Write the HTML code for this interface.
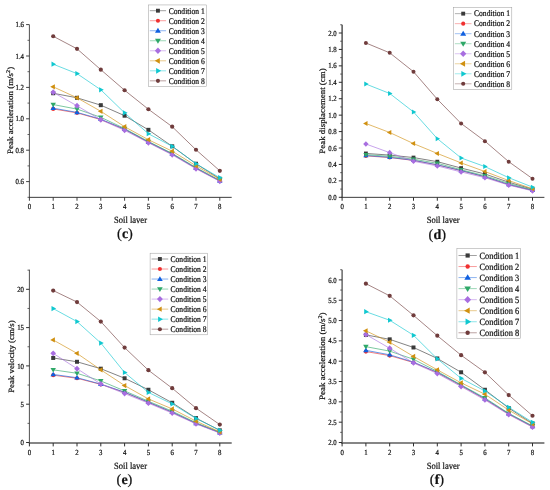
<!DOCTYPE html>
<html lang="en">
<head>
<meta charset="utf-8">
<title>Peak response vs soil layer</title>
<style>
html,body{margin:0;padding:0;background:#fff;}
body{width:550px;height:490px;overflow:hidden;}
svg{display:block;text-rendering:geometricPrecision;}
text{stroke:#1a1a1a;stroke-width:0.24px;paint-order:stroke;font-family:'Liberation Serif', 'Times New Roman', serif;}
</style>
</head>
<body>
<svg width="550" height="490" viewBox="0 0 550 490">
<defs><filter id="soft" x="0" y="0" width="100%" height="100%" filterUnits="userSpaceOnUse" color-interpolation-filters="sRGB"><feGaussianBlur stdDeviation="0.3"/></filter></defs>
<rect width="550" height="490" fill="#ffffff"/>
<g filter="url(#soft)">
<g id="panel-c">
<polyline points="53.20,93.25 77.00,97.80 100.80,105.18 124.60,115.70 148.40,129.83 172.20,146.31 196.00,163.74 219.80,178.81" fill="none" stroke="#3a3a3a" stroke-width="0.7" stroke-opacity="0.9"/>
<rect x="51.21" y="91.25" width="3.99" height="3.99" fill="#3a3a3a"/>
<rect x="75.00" y="95.80" width="3.99" height="3.99" fill="#3a3a3a"/>
<rect x="98.81" y="103.18" width="3.99" height="3.99" fill="#3a3a3a"/>
<rect x="122.60" y="113.70" width="3.99" height="3.99" fill="#3a3a3a"/>
<rect x="146.41" y="127.83" width="3.99" height="3.99" fill="#3a3a3a"/>
<rect x="170.21" y="144.32" width="3.99" height="3.99" fill="#3a3a3a"/>
<rect x="194.00" y="161.74" width="3.99" height="3.99" fill="#3a3a3a"/>
<rect x="217.81" y="176.81" width="3.99" height="3.99" fill="#3a3a3a"/>
<polyline points="53.20,108.95 77.00,112.87 100.80,119.62 124.60,129.35 148.40,142.23 172.20,154.16 196.00,168.29 219.80,181.01" fill="none" stroke="#f03030" stroke-width="0.7" stroke-opacity="0.9"/>
<circle cx="53.20" cy="108.95" r="2.10" fill="#f03030"/>
<circle cx="77.00" cy="112.87" r="2.10" fill="#f03030"/>
<circle cx="100.80" cy="119.62" r="2.10" fill="#f03030"/>
<circle cx="124.60" cy="129.35" r="2.10" fill="#f03030"/>
<circle cx="148.40" cy="142.23" r="2.10" fill="#f03030"/>
<circle cx="172.20" cy="154.16" r="2.10" fill="#f03030"/>
<circle cx="196.00" cy="168.29" r="2.10" fill="#f03030"/>
<circle cx="219.80" cy="181.01" r="2.10" fill="#f03030"/>
<polyline points="53.20,108.16 77.00,112.40 100.80,119.15 124.60,129.20 148.40,142.07 172.20,154.00 196.00,168.13 219.80,180.85" fill="none" stroke="#1060e0" stroke-width="0.7" stroke-opacity="0.9"/>
<polygon points="53.20,105.44 50.48,109.97 55.92,109.97" fill="#1060e0"/>
<polygon points="77.00,109.68 74.28,114.21 79.72,114.21" fill="#1060e0"/>
<polygon points="100.80,116.43 98.08,120.96 103.52,120.96" fill="#1060e0"/>
<polygon points="124.60,126.48 121.88,131.01 127.32,131.01" fill="#1060e0"/>
<polygon points="148.40,139.35 145.68,143.89 151.12,143.89" fill="#1060e0"/>
<polygon points="172.20,151.28 169.48,155.82 174.92,155.82" fill="#1060e0"/>
<polygon points="196.00,165.41 193.28,169.95 198.72,169.95" fill="#1060e0"/>
<polygon points="219.80,178.13 217.08,182.67 222.52,182.67" fill="#1060e0"/>
<polyline points="53.20,104.55 77.00,109.10 100.80,117.27 124.60,128.57 148.40,141.44 172.20,153.38 196.00,167.51 219.80,180.38" fill="none" stroke="#2ea868" stroke-width="0.7" stroke-opacity="0.9"/>
<polygon points="53.20,107.27 50.48,102.73 55.92,102.73" fill="#2ea868"/>
<polygon points="77.00,111.82 74.28,107.29 79.72,107.29" fill="#2ea868"/>
<polygon points="100.80,119.99 98.08,115.45 103.52,115.45" fill="#2ea868"/>
<polygon points="124.60,131.29 121.88,126.76 127.32,126.76" fill="#2ea868"/>
<polygon points="148.40,144.17 145.68,139.63 151.12,139.63" fill="#2ea868"/>
<polygon points="172.20,156.10 169.48,151.56 174.92,151.56" fill="#2ea868"/>
<polygon points="196.00,170.23 193.28,165.69 198.72,165.69" fill="#2ea868"/>
<polygon points="219.80,183.10 217.08,178.57 222.52,178.57" fill="#2ea868"/>
<polyline points="53.20,92.30 77.00,105.81 100.80,119.78 124.60,130.30 148.40,142.70 172.20,154.79 196.00,168.76 219.80,181.32" fill="none" stroke="#a86ee0" stroke-width="0.7" stroke-opacity="0.9"/>
<polygon points="53.20,89.35 56.04,92.30 53.20,95.25 50.37,92.30" fill="#a86ee0"/>
<polygon points="77.00,102.86 79.83,105.81 77.00,108.75 74.17,105.81" fill="#a86ee0"/>
<polygon points="100.80,116.83 103.64,119.78 100.80,122.73 97.97,119.78" fill="#a86ee0"/>
<polygon points="124.60,127.35 127.43,130.30 124.60,133.25 121.77,130.30" fill="#a86ee0"/>
<polygon points="148.40,139.75 151.24,142.70 148.40,145.65 145.56,142.70" fill="#a86ee0"/>
<polygon points="172.20,151.84 175.04,154.79 172.20,157.74 169.37,154.79" fill="#a86ee0"/>
<polygon points="196.00,165.81 198.84,168.76 196.00,171.71 193.16,168.76" fill="#a86ee0"/>
<polygon points="219.80,178.37 222.64,181.32 219.80,184.27 216.97,181.32" fill="#a86ee0"/>
<polyline points="53.20,86.81 77.00,97.80 100.80,111.30 124.60,126.69 148.40,139.72 172.20,151.18 196.00,165.78 219.80,179.28" fill="none" stroke="#d09010" stroke-width="0.7" stroke-opacity="0.9"/>
<polygon points="50.25,86.81 54.90,84.20 54.90,89.42" fill="#d09010"/>
<polygon points="74.05,97.80 78.70,95.19 78.70,100.41" fill="#d09010"/>
<polygon points="97.85,111.30 102.50,108.69 102.50,113.91" fill="#d09010"/>
<polygon points="121.65,126.69 126.30,124.08 126.30,129.29" fill="#d09010"/>
<polygon points="145.45,139.72 150.10,137.11 150.10,142.33" fill="#d09010"/>
<polygon points="169.25,151.18 173.90,148.57 173.90,153.79" fill="#d09010"/>
<polygon points="193.05,165.78 197.70,163.17 197.70,168.39" fill="#d09010"/>
<polygon points="216.85,179.28 221.50,176.67 221.50,181.89" fill="#d09010"/>
<polyline points="53.20,64.20 77.00,73.62 100.80,89.79 124.60,112.87 148.40,133.75 172.20,146.31 196.00,163.74 219.80,177.71" fill="none" stroke="#10c8d0" stroke-width="0.7" stroke-opacity="0.9"/>
<polygon points="56.15,64.20 51.50,61.59 51.50,66.81" fill="#10c8d0"/>
<polygon points="79.95,73.62 75.30,71.01 75.30,76.23" fill="#10c8d0"/>
<polygon points="103.75,89.79 99.10,87.18 99.10,92.40" fill="#10c8d0"/>
<polygon points="127.55,112.87 122.90,110.26 122.90,115.48" fill="#10c8d0"/>
<polygon points="151.35,133.75 146.70,131.14 146.70,136.36" fill="#10c8d0"/>
<polygon points="175.15,146.31 170.50,143.70 170.50,148.92" fill="#10c8d0"/>
<polygon points="198.95,163.74 194.30,161.13 194.30,166.35" fill="#10c8d0"/>
<polygon points="222.75,177.71 218.10,175.10 218.10,180.32" fill="#10c8d0"/>
<polyline points="53.20,36.25 77.00,48.81 100.80,69.70 124.60,90.26 148.40,109.26 172.20,126.69 196.00,149.77 219.80,170.80" fill="none" stroke="#703c3c" stroke-width="0.7" stroke-opacity="0.9"/>
<circle cx="53.20" cy="36.25" r="2.10" fill="#703c3c"/>
<circle cx="77.00" cy="48.81" r="2.10" fill="#703c3c"/>
<circle cx="100.80" cy="69.70" r="2.10" fill="#703c3c"/>
<circle cx="124.60" cy="90.26" r="2.10" fill="#703c3c"/>
<circle cx="148.40" cy="109.26" r="2.10" fill="#703c3c"/>
<circle cx="172.20" cy="126.69" r="2.10" fill="#703c3c"/>
<circle cx="196.00" cy="149.77" r="2.10" fill="#703c3c"/>
<circle cx="219.80" cy="170.80" r="2.10" fill="#703c3c"/>
<path d="M29.40 24.70V197.85" fill="none" stroke="#3c3c3c" stroke-width="0.9"/>
<path d="M28.95 197.35H231.70" fill="none" stroke="#3c3c3c" stroke-width="1.0"/>
<path d="M29.40 197.35v3.4" stroke="#2e2e2e" stroke-width="0.9"/>
<text transform="translate(29.40 209.25) scale(0.87,1)" font-size="7.8" text-anchor="middle" fill="#111">0</text>
<path d="M53.20 197.35v3.4" stroke="#2e2e2e" stroke-width="0.9"/>
<text transform="translate(53.20 209.25) scale(0.87,1)" font-size="7.8" text-anchor="middle" fill="#111">1</text>
<path d="M77.00 197.35v3.4" stroke="#2e2e2e" stroke-width="0.9"/>
<text transform="translate(77.00 209.25) scale(0.87,1)" font-size="7.8" text-anchor="middle" fill="#111">2</text>
<path d="M100.80 197.35v3.4" stroke="#2e2e2e" stroke-width="0.9"/>
<text transform="translate(100.80 209.25) scale(0.87,1)" font-size="7.8" text-anchor="middle" fill="#111">3</text>
<path d="M124.60 197.35v3.4" stroke="#2e2e2e" stroke-width="0.9"/>
<text transform="translate(124.60 209.25) scale(0.87,1)" font-size="7.8" text-anchor="middle" fill="#111">4</text>
<path d="M148.40 197.35v3.4" stroke="#2e2e2e" stroke-width="0.9"/>
<text transform="translate(148.40 209.25) scale(0.87,1)" font-size="7.8" text-anchor="middle" fill="#111">5</text>
<path d="M172.20 197.35v3.4" stroke="#2e2e2e" stroke-width="0.9"/>
<text transform="translate(172.20 209.25) scale(0.87,1)" font-size="7.8" text-anchor="middle" fill="#111">6</text>
<path d="M196.00 197.35v3.4" stroke="#2e2e2e" stroke-width="0.9"/>
<text transform="translate(196.00 209.25) scale(0.87,1)" font-size="7.8" text-anchor="middle" fill="#111">7</text>
<path d="M219.80 197.35v3.4" stroke="#2e2e2e" stroke-width="0.9"/>
<text transform="translate(219.80 209.25) scale(0.87,1)" font-size="7.8" text-anchor="middle" fill="#111">8</text>
<path d="M29.40 181.60h-3.3" stroke="#2e2e2e" stroke-width="0.9"/>
<text transform="translate(24.00 184.20) scale(0.87,1)" font-size="7.8" text-anchor="end" fill="#111">0.6</text>
<path d="M29.40 150.20h-3.3" stroke="#2e2e2e" stroke-width="0.9"/>
<text transform="translate(24.00 152.80) scale(0.87,1)" font-size="7.8" text-anchor="end" fill="#111">0.8</text>
<path d="M29.40 118.80h-3.3" stroke="#2e2e2e" stroke-width="0.9"/>
<text transform="translate(24.00 121.40) scale(0.87,1)" font-size="7.8" text-anchor="end" fill="#111">1.0</text>
<path d="M29.40 87.40h-3.3" stroke="#2e2e2e" stroke-width="0.9"/>
<text transform="translate(24.00 90.00) scale(0.87,1)" font-size="7.8" text-anchor="end" fill="#111">1.2</text>
<path d="M29.40 56.00h-3.3" stroke="#2e2e2e" stroke-width="0.9"/>
<text transform="translate(24.00 58.60) scale(0.87,1)" font-size="7.8" text-anchor="end" fill="#111">1.4</text>
<path d="M29.40 24.60h-3.3" stroke="#2e2e2e" stroke-width="0.9"/>
<text transform="translate(24.00 27.20) scale(0.87,1)" font-size="7.8" text-anchor="end" fill="#111">1.6</text>
<path d="M29.40 197.30h-1.9" stroke="#3c3c3c" stroke-width="0.8"/>
<path d="M29.40 165.90h-1.9" stroke="#3c3c3c" stroke-width="0.8"/>
<path d="M29.40 134.50h-1.9" stroke="#3c3c3c" stroke-width="0.8"/>
<path d="M29.40 103.10h-1.9" stroke="#3c3c3c" stroke-width="0.8"/>
<path d="M29.40 71.70h-1.9" stroke="#3c3c3c" stroke-width="0.8"/>
<path d="M29.40 40.30h-1.9" stroke="#3c3c3c" stroke-width="0.8"/>
<text transform="translate(12.6 110.4) scale(0.92,1) rotate(-90)" font-size="8.96" text-anchor="middle" fill="#111">Peak acceleration (m/s<tspan font-size="6.2" dy="-3.1">2</tspan><tspan dy="3.1">)</tspan></text>
<clipPath id="clip-c"><rect x="-30" y="-12" width="60" height="12.55"/></clipPath>
<text transform="translate(130.5 222.8) scale(0.9,1)" clip-path="url(#clip-c)" font-size="9.5" text-anchor="middle" fill="#111">Soil layer</text>
<text x="125" y="238.3" font-size="14" font-weight="bold" text-anchor="middle" fill="#111"><tspan font-size="14.4" font-weight="normal" dy="0.1">(</tspan><tspan dy="-0.1">c</tspan><tspan font-size="14.4" font-weight="normal" dy="0.1">)</tspan></text>
<rect x="148.4" y="4.95" width="58.00" height="81.75" fill="#fff" stroke="#9a9a9a" stroke-width="0.5"/>
<path d="M149.8 10.70H166.1" stroke="#3a3a3a" stroke-width="0.6" stroke-opacity="0.8"/>
<rect x="156.00" y="8.75" width="3.89" height="3.89" fill="#3a3a3a"/>
<text transform="translate(168.7 13.51) scale(0.88,1)" font-size="8.63" fill="#111">Condition 1</text>
<path d="M149.8 20.72H166.1" stroke="#f03030" stroke-width="0.6" stroke-opacity="0.8"/>
<circle cx="157.95" cy="20.72" r="2.05" fill="#f03030"/>
<text transform="translate(168.7 23.53) scale(0.88,1)" font-size="8.63" fill="#111">Condition 2</text>
<path d="M149.8 30.74H166.1" stroke="#1060e0" stroke-width="0.6" stroke-opacity="0.8"/>
<polygon points="157.95,27.79 155.00,32.71 160.90,32.71" fill="#1060e0"/>
<text transform="translate(168.7 33.55) scale(0.88,1)" font-size="8.63" fill="#111">Condition 3</text>
<path d="M149.8 40.76H166.1" stroke="#2ea868" stroke-width="0.6" stroke-opacity="0.8"/>
<polygon points="157.95,43.71 155.00,38.79 160.90,38.79" fill="#2ea868"/>
<text transform="translate(168.7 43.57) scale(0.88,1)" font-size="8.63" fill="#111">Condition 4</text>
<path d="M149.8 50.78H166.1" stroke="#a86ee0" stroke-width="0.6" stroke-opacity="0.8"/>
<polygon points="157.95,47.58 161.02,50.78 157.95,53.98 154.88,50.78" fill="#a86ee0"/>
<text transform="translate(168.7 53.59) scale(0.88,1)" font-size="8.63" fill="#111">Condition 5</text>
<path d="M149.8 60.80H166.1" stroke="#d09010" stroke-width="0.6" stroke-opacity="0.8"/>
<polygon points="154.75,60.80 159.79,57.97 159.79,63.63" fill="#d09010"/>
<text transform="translate(168.7 63.61) scale(0.88,1)" font-size="8.63" fill="#111">Condition 6</text>
<path d="M149.8 70.82H166.1" stroke="#10c8d0" stroke-width="0.6" stroke-opacity="0.8"/>
<polygon points="161.15,70.82 156.10,67.99 156.10,73.65" fill="#10c8d0"/>
<text transform="translate(168.7 73.63) scale(0.88,1)" font-size="8.63" fill="#111">Condition 7</text>
<path d="M149.8 80.84H166.1" stroke="#703c3c" stroke-width="0.6" stroke-opacity="0.8"/>
<circle cx="157.95" cy="80.84" r="2.05" fill="#703c3c"/>
<text transform="translate(168.7 83.65) scale(0.88,1)" font-size="8.63" fill="#111">Condition 8</text>
</g>
<g id="panel-d">
<polyline points="365.90,153.45 389.70,155.09 413.50,157.56 437.30,161.66 461.10,168.07 484.90,173.99 508.70,182.20 532.50,189.19" fill="none" stroke="#3a3a3a" stroke-width="0.7" stroke-opacity="0.9"/>
<rect x="364.00" y="151.55" width="3.80" height="3.80" fill="#3a3a3a"/>
<rect x="387.80" y="153.19" width="3.80" height="3.80" fill="#3a3a3a"/>
<rect x="411.60" y="155.66" width="3.80" height="3.80" fill="#3a3a3a"/>
<rect x="435.40" y="159.76" width="3.80" height="3.80" fill="#3a3a3a"/>
<rect x="459.20" y="166.17" width="3.80" height="3.80" fill="#3a3a3a"/>
<rect x="483.00" y="172.09" width="3.80" height="3.80" fill="#3a3a3a"/>
<rect x="506.80" y="180.30" width="3.80" height="3.80" fill="#3a3a3a"/>
<rect x="530.60" y="187.28" width="3.80" height="3.80" fill="#3a3a3a"/>
<polyline points="365.90,155.91 389.70,157.56 413.50,160.43 437.30,164.95 461.10,170.70 484.90,176.86 508.70,184.67 532.50,190.42" fill="none" stroke="#f03030" stroke-width="0.7" stroke-opacity="0.9"/>
<circle cx="365.90" cy="155.91" r="2.00" fill="#f03030"/>
<circle cx="389.70" cy="157.56" r="2.00" fill="#f03030"/>
<circle cx="413.50" cy="160.43" r="2.00" fill="#f03030"/>
<circle cx="437.30" cy="164.95" r="2.00" fill="#f03030"/>
<circle cx="461.10" cy="170.70" r="2.00" fill="#f03030"/>
<circle cx="484.90" cy="176.86" r="2.00" fill="#f03030"/>
<circle cx="508.70" cy="184.67" r="2.00" fill="#f03030"/>
<circle cx="532.50" cy="190.42" r="2.00" fill="#f03030"/>
<polyline points="365.90,155.50 389.70,157.31 413.50,160.27 437.30,164.79 461.10,170.54 484.90,176.70 508.70,184.50 532.50,190.34" fill="none" stroke="#1060e0" stroke-width="0.7" stroke-opacity="0.9"/>
<polygon points="365.90,152.91 363.31,157.23 368.49,157.23" fill="#1060e0"/>
<polygon points="389.70,154.72 387.11,159.04 392.29,159.04" fill="#1060e0"/>
<polygon points="413.50,157.68 410.91,162.00 416.09,162.00" fill="#1060e0"/>
<polygon points="437.30,162.19 434.71,166.51 439.89,166.51" fill="#1060e0"/>
<polygon points="461.10,167.94 458.51,172.26 463.69,172.26" fill="#1060e0"/>
<polygon points="484.90,174.11 482.31,178.43 487.49,178.43" fill="#1060e0"/>
<polygon points="508.70,181.91 506.11,186.23 511.29,186.23" fill="#1060e0"/>
<polygon points="532.50,187.74 529.91,192.06 535.09,192.06" fill="#1060e0"/>
<polyline points="365.90,154.68 389.70,156.33 413.50,159.20 437.30,163.31 461.10,169.72 484.90,175.79 508.70,183.43 532.50,190.01" fill="none" stroke="#2ea868" stroke-width="0.7" stroke-opacity="0.9"/>
<polygon points="365.90,157.27 363.31,152.95 368.49,152.95" fill="#2ea868"/>
<polygon points="389.70,158.92 387.11,154.60 392.29,154.60" fill="#2ea868"/>
<polygon points="413.50,161.79 410.91,157.47 416.09,157.47" fill="#2ea868"/>
<polygon points="437.30,165.90 434.71,161.58 439.89,161.58" fill="#2ea868"/>
<polygon points="461.10,172.31 458.51,167.99 463.69,167.99" fill="#2ea868"/>
<polygon points="484.90,178.39 482.31,174.07 487.49,174.07" fill="#2ea868"/>
<polygon points="508.70,186.03 506.11,181.71 511.29,181.71" fill="#2ea868"/>
<polygon points="532.50,192.60 529.91,188.28 535.09,188.28" fill="#2ea868"/>
<polyline points="365.90,144.00 389.70,152.63 413.50,161.25 437.30,165.94 461.10,171.93 484.90,177.68 508.70,185.08 532.50,190.83" fill="none" stroke="#a86ee0" stroke-width="0.7" stroke-opacity="0.9"/>
<polygon points="365.90,141.19 368.60,144.00 365.90,146.81 363.20,144.00" fill="#a86ee0"/>
<polygon points="389.70,149.82 392.40,152.63 389.70,155.44 387.00,152.63" fill="#a86ee0"/>
<polygon points="413.50,158.45 416.20,161.25 413.50,164.06 410.80,161.25" fill="#a86ee0"/>
<polygon points="437.30,163.13 440.00,165.94 437.30,168.74 434.60,165.94" fill="#a86ee0"/>
<polygon points="461.10,169.13 463.80,171.93 461.10,174.74 458.40,171.93" fill="#a86ee0"/>
<polygon points="484.90,174.88 487.60,177.68 484.90,180.49 482.20,177.68" fill="#a86ee0"/>
<polygon points="508.70,182.27 511.40,185.08 508.70,187.89 506.00,185.08" fill="#a86ee0"/>
<polygon points="532.50,188.02 535.20,190.83 532.50,193.64 529.80,190.83" fill="#a86ee0"/>
<polyline points="365.90,123.47 389.70,132.50 413.50,143.59 437.30,153.45 461.10,162.90 484.90,171.52 508.70,180.56 532.50,188.77" fill="none" stroke="#d09010" stroke-width="0.7" stroke-opacity="0.9"/>
<polygon points="363.09,123.47 367.52,120.98 367.52,125.95" fill="#d09010"/>
<polygon points="386.89,132.50 391.32,130.02 391.32,134.99" fill="#d09010"/>
<polygon points="410.69,143.59 415.12,141.11 415.12,146.08" fill="#d09010"/>
<polygon points="434.49,153.45 438.92,150.97 438.92,155.93" fill="#d09010"/>
<polygon points="458.29,162.90 462.72,160.41 462.72,165.38" fill="#d09010"/>
<polygon points="482.09,171.52 486.52,169.04 486.52,174.01" fill="#d09010"/>
<polygon points="505.89,180.56 510.32,178.08 510.32,183.04" fill="#d09010"/>
<polygon points="529.69,188.77 534.12,186.29 534.12,191.26" fill="#d09010"/>
<polyline points="365.90,84.03 389.70,93.48 413.50,111.96 437.30,138.66 461.10,157.97 484.90,166.59 508.70,177.68 532.50,187.13" fill="none" stroke="#10c8d0" stroke-width="0.7" stroke-opacity="0.9"/>
<polygon points="368.71,84.03 364.28,81.55 364.28,86.52" fill="#10c8d0"/>
<polygon points="392.51,93.48 388.08,91.00 388.08,95.96" fill="#10c8d0"/>
<polygon points="416.31,111.96 411.88,109.48 411.88,114.45" fill="#10c8d0"/>
<polygon points="440.11,138.66 435.68,136.18 435.68,141.15" fill="#10c8d0"/>
<polygon points="463.91,157.97 459.48,155.48 459.48,160.45" fill="#10c8d0"/>
<polygon points="487.71,166.59 483.28,164.11 483.28,169.08" fill="#10c8d0"/>
<polygon points="511.51,177.68 507.08,175.20 507.08,180.17" fill="#10c8d0"/>
<polygon points="535.31,187.13 530.88,184.65 530.88,189.62" fill="#10c8d0"/>
<polyline points="365.90,42.96 389.70,52.82 413.50,71.71 437.30,99.23 461.10,123.47 484.90,141.13 508.70,161.66 532.50,178.67" fill="none" stroke="#703c3c" stroke-width="0.7" stroke-opacity="0.9"/>
<circle cx="365.90" cy="42.96" r="2.00" fill="#703c3c"/>
<circle cx="389.70" cy="52.82" r="2.00" fill="#703c3c"/>
<circle cx="413.50" cy="71.71" r="2.00" fill="#703c3c"/>
<circle cx="437.30" cy="99.23" r="2.00" fill="#703c3c"/>
<circle cx="461.10" cy="123.47" r="2.00" fill="#703c3c"/>
<circle cx="484.90" cy="141.13" r="2.00" fill="#703c3c"/>
<circle cx="508.70" cy="161.66" r="2.00" fill="#703c3c"/>
<circle cx="532.50" cy="178.67" r="2.00" fill="#703c3c"/>
<path d="M342.10 24.70V197.85" fill="none" stroke="#383838" stroke-width="1.3"/>
<path d="M341.45 197.35H544.40" fill="none" stroke="#3c3c3c" stroke-width="1.0"/>
<path d="M342.10 197.35v3.4" stroke="#2e2e2e" stroke-width="1.0"/>
<text transform="translate(342.10 209.25) scale(0.87,1)" font-size="7.8" text-anchor="middle" fill="#111">0</text>
<path d="M365.90 197.35v3.4" stroke="#2e2e2e" stroke-width="1.0"/>
<text transform="translate(365.90 209.25) scale(0.87,1)" font-size="7.8" text-anchor="middle" fill="#111">1</text>
<path d="M389.70 197.35v3.4" stroke="#2e2e2e" stroke-width="1.0"/>
<text transform="translate(389.70 209.25) scale(0.87,1)" font-size="7.8" text-anchor="middle" fill="#111">2</text>
<path d="M413.50 197.35v3.4" stroke="#2e2e2e" stroke-width="1.0"/>
<text transform="translate(413.50 209.25) scale(0.87,1)" font-size="7.8" text-anchor="middle" fill="#111">3</text>
<path d="M437.30 197.35v3.4" stroke="#2e2e2e" stroke-width="1.0"/>
<text transform="translate(437.30 209.25) scale(0.87,1)" font-size="7.8" text-anchor="middle" fill="#111">4</text>
<path d="M461.10 197.35v3.4" stroke="#2e2e2e" stroke-width="1.0"/>
<text transform="translate(461.10 209.25) scale(0.87,1)" font-size="7.8" text-anchor="middle" fill="#111">5</text>
<path d="M484.90 197.35v3.4" stroke="#2e2e2e" stroke-width="1.0"/>
<text transform="translate(484.90 209.25) scale(0.87,1)" font-size="7.8" text-anchor="middle" fill="#111">6</text>
<path d="M508.70 197.35v3.4" stroke="#2e2e2e" stroke-width="1.0"/>
<text transform="translate(508.70 209.25) scale(0.87,1)" font-size="7.8" text-anchor="middle" fill="#111">7</text>
<path d="M532.50 197.35v3.4" stroke="#2e2e2e" stroke-width="1.0"/>
<text transform="translate(532.50 209.25) scale(0.87,1)" font-size="7.8" text-anchor="middle" fill="#111">8</text>
<path d="M342.10 197.30h-3.3" stroke="#2e2e2e" stroke-width="1.0"/>
<text transform="translate(336.70 199.90) scale(0.87,1)" font-size="7.8" text-anchor="end" fill="#111">0.0</text>
<path d="M342.10 180.87h-3.3" stroke="#2e2e2e" stroke-width="1.0"/>
<text transform="translate(336.70 183.47) scale(0.87,1)" font-size="7.8" text-anchor="end" fill="#111">0.2</text>
<path d="M342.10 164.44h-3.3" stroke="#2e2e2e" stroke-width="1.0"/>
<text transform="translate(336.70 167.04) scale(0.87,1)" font-size="7.8" text-anchor="end" fill="#111">0.4</text>
<path d="M342.10 148.01h-3.3" stroke="#2e2e2e" stroke-width="1.0"/>
<text transform="translate(336.70 150.61) scale(0.87,1)" font-size="7.8" text-anchor="end" fill="#111">0.6</text>
<path d="M342.10 131.58h-3.3" stroke="#2e2e2e" stroke-width="1.0"/>
<text transform="translate(336.70 134.18) scale(0.87,1)" font-size="7.8" text-anchor="end" fill="#111">0.8</text>
<path d="M342.10 115.15h-3.3" stroke="#2e2e2e" stroke-width="1.0"/>
<text transform="translate(336.70 117.75) scale(0.87,1)" font-size="7.8" text-anchor="end" fill="#111">1.0</text>
<path d="M342.10 98.72h-3.3" stroke="#2e2e2e" stroke-width="1.0"/>
<text transform="translate(336.70 101.32) scale(0.87,1)" font-size="7.8" text-anchor="end" fill="#111">1.2</text>
<path d="M342.10 82.29h-3.3" stroke="#2e2e2e" stroke-width="1.0"/>
<text transform="translate(336.70 84.89) scale(0.87,1)" font-size="7.8" text-anchor="end" fill="#111">1.4</text>
<path d="M342.10 65.86h-3.3" stroke="#2e2e2e" stroke-width="1.0"/>
<text transform="translate(336.70 68.46) scale(0.87,1)" font-size="7.8" text-anchor="end" fill="#111">1.6</text>
<path d="M342.10 49.43h-3.3" stroke="#2e2e2e" stroke-width="1.0"/>
<text transform="translate(336.70 52.03) scale(0.87,1)" font-size="7.8" text-anchor="end" fill="#111">1.8</text>
<path d="M342.10 33.00h-3.3" stroke="#2e2e2e" stroke-width="1.0"/>
<text transform="translate(336.70 35.60) scale(0.87,1)" font-size="7.8" text-anchor="end" fill="#111">2.0</text>
<path d="M342.10 189.09h-1.9" stroke="#3c3c3c" stroke-width="0.8"/>
<path d="M342.10 172.66h-1.9" stroke="#3c3c3c" stroke-width="0.8"/>
<path d="M342.10 156.23h-1.9" stroke="#3c3c3c" stroke-width="0.8"/>
<path d="M342.10 139.80h-1.9" stroke="#3c3c3c" stroke-width="0.8"/>
<path d="M342.10 123.37h-1.9" stroke="#3c3c3c" stroke-width="0.8"/>
<path d="M342.10 106.94h-1.9" stroke="#3c3c3c" stroke-width="0.8"/>
<path d="M342.10 90.50h-1.9" stroke="#3c3c3c" stroke-width="0.8"/>
<path d="M342.10 74.07h-1.9" stroke="#3c3c3c" stroke-width="0.8"/>
<path d="M342.10 57.64h-1.9" stroke="#3c3c3c" stroke-width="0.8"/>
<path d="M342.10 41.21h-1.9" stroke="#3c3c3c" stroke-width="0.8"/>
<path d="M342.10 24.78h-1.9" stroke="#3c3c3c" stroke-width="0.8"/>
<text transform="translate(324.6 111.0) scale(0.92,1) rotate(-90)" font-size="8.9" text-anchor="middle" fill="#111">Peak displacement (cm)</text>
<clipPath id="clip-d"><rect x="-30" y="-12" width="60" height="12.55"/></clipPath>
<text transform="translate(443.2 222.8) scale(0.9,1)" clip-path="url(#clip-d)" font-size="9.5" text-anchor="middle" fill="#111">Soil layer</text>
<text x="437.3" y="238.7" font-size="14" font-weight="bold" text-anchor="middle" fill="#111"><tspan font-size="14.4" font-weight="normal" dy="0.1">(</tspan><tspan dy="-0.1">d</tspan><tspan font-size="14.4" font-weight="normal" dy="0.1">)</tspan></text>
<rect x="453.6" y="7.5" width="58.20" height="81.80" fill="#fff" stroke="#9a9a9a" stroke-width="0.5"/>
<path d="M454.9 13.65H471.5" stroke="#3a3a3a" stroke-width="0.6" stroke-opacity="0.65"/>
<rect x="461.25" y="11.70" width="3.89" height="3.89" fill="#3a3a3a"/>
<text transform="translate(474.0 16.46) scale(0.88,1)" font-size="8.63" fill="#111">Condition 1</text>
<path d="M454.9 23.67H471.5" stroke="#f03030" stroke-width="0.6" stroke-opacity="0.65"/>
<circle cx="463.20" cy="23.67" r="2.05" fill="#f03030"/>
<text transform="translate(474.0 26.48) scale(0.88,1)" font-size="8.63" fill="#111">Condition 2</text>
<path d="M454.9 33.69H471.5" stroke="#1060e0" stroke-width="0.6" stroke-opacity="0.65"/>
<polygon points="463.20,30.69 460.20,35.69 466.20,35.69" fill="#1060e0"/>
<text transform="translate(474.0 36.50) scale(0.88,1)" font-size="8.63" fill="#111">Condition 3</text>
<path d="M454.9 43.71H471.5" stroke="#2ea868" stroke-width="0.6" stroke-opacity="0.65"/>
<polygon points="463.20,46.71 460.20,41.71 466.20,41.71" fill="#2ea868"/>
<text transform="translate(474.0 46.52) scale(0.88,1)" font-size="8.63" fill="#111">Condition 4</text>
<path d="M454.9 53.73H471.5" stroke="#a86ee0" stroke-width="0.6" stroke-opacity="0.65"/>
<polygon points="463.20,50.48 466.33,53.73 463.20,56.98 460.07,53.73" fill="#a86ee0"/>
<text transform="translate(474.0 56.54) scale(0.88,1)" font-size="8.63" fill="#111">Condition 5</text>
<path d="M454.9 63.75H471.5" stroke="#d09010" stroke-width="0.6" stroke-opacity="0.65"/>
<polygon points="459.95,63.75 465.08,60.87 465.08,66.63" fill="#d09010"/>
<text transform="translate(474.0 66.56) scale(0.88,1)" font-size="8.63" fill="#111">Condition 6</text>
<path d="M454.9 73.77H471.5" stroke="#10c8d0" stroke-width="0.6" stroke-opacity="0.65"/>
<polygon points="466.45,73.77 461.32,70.89 461.32,76.65" fill="#10c8d0"/>
<text transform="translate(474.0 76.58) scale(0.88,1)" font-size="8.63" fill="#111">Condition 7</text>
<path d="M454.9 83.79H471.5" stroke="#703c3c" stroke-width="0.6" stroke-opacity="0.65"/>
<circle cx="463.20" cy="83.79" r="2.05" fill="#703c3c"/>
<text transform="translate(474.0 86.60) scale(0.88,1)" font-size="8.63" fill="#111">Condition 8</text>
</g>
<g id="panel-e">
<polyline points="53.20,357.96 77.00,361.79 100.80,368.68 124.60,378.26 148.40,389.75 172.20,402.77 196.00,418.09 219.80,430.34" fill="none" stroke="#3a3a3a" stroke-width="0.7" stroke-opacity="0.9"/>
<rect x="51.21" y="355.96" width="3.99" height="3.99" fill="#3a3a3a"/>
<rect x="75.00" y="359.79" width="3.99" height="3.99" fill="#3a3a3a"/>
<rect x="98.81" y="366.69" width="3.99" height="3.99" fill="#3a3a3a"/>
<rect x="122.60" y="376.26" width="3.99" height="3.99" fill="#3a3a3a"/>
<rect x="146.41" y="387.75" width="3.99" height="3.99" fill="#3a3a3a"/>
<rect x="170.21" y="400.77" width="3.99" height="3.99" fill="#3a3a3a"/>
<rect x="194.00" y="416.09" width="3.99" height="3.99" fill="#3a3a3a"/>
<rect x="217.81" y="428.35" width="3.99" height="3.99" fill="#3a3a3a"/>
<polyline points="53.20,375.19 77.00,378.26 100.80,384.38 124.60,392.43 148.40,402.38 172.20,412.34 196.00,423.45 219.80,432.64" fill="none" stroke="#f03030" stroke-width="0.7" stroke-opacity="0.9"/>
<circle cx="53.20" cy="375.19" r="2.10" fill="#f03030"/>
<circle cx="77.00" cy="378.26" r="2.10" fill="#f03030"/>
<circle cx="100.80" cy="384.38" r="2.10" fill="#f03030"/>
<circle cx="124.60" cy="392.43" r="2.10" fill="#f03030"/>
<circle cx="148.40" cy="402.38" r="2.10" fill="#f03030"/>
<circle cx="172.20" cy="412.34" r="2.10" fill="#f03030"/>
<circle cx="196.00" cy="423.45" r="2.10" fill="#f03030"/>
<circle cx="219.80" cy="432.64" r="2.10" fill="#f03030"/>
<polyline points="53.20,374.43 77.00,377.72 100.80,384.08 124.60,392.20 148.40,402.16 172.20,412.11 196.00,423.37 219.80,432.57" fill="none" stroke="#1060e0" stroke-width="0.7" stroke-opacity="0.9"/>
<polygon points="53.20,371.70 50.48,376.24 55.92,376.24" fill="#1060e0"/>
<polygon points="77.00,375.00 74.28,379.53 79.72,379.53" fill="#1060e0"/>
<polygon points="100.80,381.36 98.08,385.89 103.52,385.89" fill="#1060e0"/>
<polygon points="124.60,389.48 121.88,394.01 127.32,394.01" fill="#1060e0"/>
<polygon points="148.40,399.43 145.68,403.97 151.12,403.97" fill="#1060e0"/>
<polygon points="172.20,409.39 169.48,413.93 174.92,413.93" fill="#1060e0"/>
<polygon points="196.00,420.65 193.28,425.19 198.72,425.19" fill="#1060e0"/>
<polygon points="219.80,429.84 217.08,434.38 222.52,434.38" fill="#1060e0"/>
<polyline points="53.20,369.83 77.00,373.28 100.80,380.94 124.60,390.90 148.40,401.24 172.20,411.19 196.00,422.68 219.80,432.26" fill="none" stroke="#2ea868" stroke-width="0.7" stroke-opacity="0.9"/>
<polygon points="53.20,372.55 50.48,368.02 55.92,368.02" fill="#2ea868"/>
<polygon points="77.00,376.00 74.28,371.46 79.72,371.46" fill="#2ea868"/>
<polygon points="100.80,383.66 98.08,379.12 103.52,379.12" fill="#2ea868"/>
<polygon points="124.60,393.62 121.88,389.08 127.32,389.08" fill="#2ea868"/>
<polygon points="148.40,403.96 145.68,399.42 151.12,399.42" fill="#2ea868"/>
<polygon points="172.20,413.92 169.48,409.38 174.92,409.38" fill="#2ea868"/>
<polygon points="196.00,425.41 193.28,420.87 198.72,420.87" fill="#2ea868"/>
<polygon points="219.80,434.98 217.08,430.44 222.52,430.44" fill="#2ea868"/>
<polyline points="53.20,353.36 77.00,368.68 100.80,384.00 124.60,393.58 148.40,403.15 172.20,413.11 196.00,423.83 219.80,433.03" fill="none" stroke="#a86ee0" stroke-width="0.7" stroke-opacity="0.9"/>
<polygon points="53.20,350.41 56.04,353.36 53.20,356.31 50.37,353.36" fill="#a86ee0"/>
<polygon points="77.00,365.73 79.83,368.68 77.00,371.63 74.17,368.68" fill="#a86ee0"/>
<polygon points="100.80,381.05 103.64,384.00 100.80,386.95 97.97,384.00" fill="#a86ee0"/>
<polygon points="124.60,390.63 127.43,393.58 124.60,396.52 121.77,393.58" fill="#a86ee0"/>
<polygon points="148.40,400.20 151.24,403.15 148.40,406.10 145.56,403.15" fill="#a86ee0"/>
<polygon points="172.20,410.16 175.04,413.11 172.20,416.06 169.37,413.11" fill="#a86ee0"/>
<polygon points="196.00,420.88 198.84,423.83 196.00,426.78 193.16,423.83" fill="#a86ee0"/>
<polygon points="219.80,430.08 222.64,433.03 219.80,435.97 216.97,433.03" fill="#a86ee0"/>
<polyline points="53.20,339.96 77.00,353.36 100.80,369.83 124.60,385.53 148.40,398.94 172.20,408.90 196.00,421.15 219.80,431.88" fill="none" stroke="#d09010" stroke-width="0.7" stroke-opacity="0.9"/>
<polygon points="50.25,339.96 54.90,337.35 54.90,342.56" fill="#d09010"/>
<polygon points="74.05,353.36 78.70,350.75 78.70,355.97" fill="#d09010"/>
<polygon points="97.85,369.83 102.50,367.22 102.50,372.44" fill="#d09010"/>
<polygon points="121.65,385.53 126.30,382.92 126.30,388.14" fill="#d09010"/>
<polygon points="145.45,398.94 150.10,396.33 150.10,401.55" fill="#d09010"/>
<polygon points="169.25,408.90 173.90,406.29 173.90,411.50" fill="#d09010"/>
<polygon points="193.05,421.15 197.70,418.54 197.70,423.76" fill="#d09010"/>
<polygon points="216.85,431.88 221.50,429.27 221.50,434.48" fill="#d09010"/>
<polyline points="53.20,308.55 77.00,321.57 100.80,343.02 124.60,372.51 148.40,392.43 172.20,403.92 196.00,418.47 219.80,430.34" fill="none" stroke="#10c8d0" stroke-width="0.7" stroke-opacity="0.9"/>
<polygon points="56.15,308.55 51.50,305.94 51.50,311.16" fill="#10c8d0"/>
<polygon points="79.95,321.57 75.30,318.96 75.30,324.18" fill="#10c8d0"/>
<polygon points="103.75,343.02 99.10,340.41 99.10,345.63" fill="#10c8d0"/>
<polygon points="127.55,372.51 122.90,369.90 122.90,375.12" fill="#10c8d0"/>
<polygon points="151.35,392.43 146.70,389.82 146.70,395.04" fill="#10c8d0"/>
<polygon points="175.15,403.92 170.50,401.31 170.50,406.53" fill="#10c8d0"/>
<polygon points="198.95,418.47 194.30,415.86 194.30,421.08" fill="#10c8d0"/>
<polygon points="222.75,430.34 218.10,427.74 218.10,432.95" fill="#10c8d0"/>
<polyline points="53.20,290.55 77.00,302.04 100.80,321.57 124.60,347.62 148.40,370.21 172.20,388.21 196.00,408.13 219.80,424.60" fill="none" stroke="#703c3c" stroke-width="0.7" stroke-opacity="0.9"/>
<circle cx="53.20" cy="290.55" r="2.10" fill="#703c3c"/>
<circle cx="77.00" cy="302.04" r="2.10" fill="#703c3c"/>
<circle cx="100.80" cy="321.57" r="2.10" fill="#703c3c"/>
<circle cx="124.60" cy="347.62" r="2.10" fill="#703c3c"/>
<circle cx="148.40" cy="370.21" r="2.10" fill="#703c3c"/>
<circle cx="172.20" cy="388.21" r="2.10" fill="#703c3c"/>
<circle cx="196.00" cy="408.13" r="2.10" fill="#703c3c"/>
<circle cx="219.80" cy="424.60" r="2.10" fill="#703c3c"/>
<path d="M29.40 269.70V443.70" fill="none" stroke="#3c3c3c" stroke-width="0.9"/>
<path d="M28.95 443.00H231.70" fill="none" stroke="#5e5e5e" stroke-width="1.4"/>
<path d="M29.40 443.00v3.4" stroke="#2e2e2e" stroke-width="1.0"/>
<text transform="translate(29.40 454.90) scale(0.87,1)" font-size="7.8" text-anchor="middle" fill="#111">0</text>
<path d="M53.20 443.00v3.4" stroke="#2e2e2e" stroke-width="1.0"/>
<text transform="translate(53.20 454.90) scale(0.87,1)" font-size="7.8" text-anchor="middle" fill="#111">1</text>
<path d="M77.00 443.00v3.4" stroke="#2e2e2e" stroke-width="1.0"/>
<text transform="translate(77.00 454.90) scale(0.87,1)" font-size="7.8" text-anchor="middle" fill="#111">2</text>
<path d="M100.80 443.00v3.4" stroke="#2e2e2e" stroke-width="1.0"/>
<text transform="translate(100.80 454.90) scale(0.87,1)" font-size="7.8" text-anchor="middle" fill="#111">3</text>
<path d="M124.60 443.00v3.4" stroke="#2e2e2e" stroke-width="1.0"/>
<text transform="translate(124.60 454.90) scale(0.87,1)" font-size="7.8" text-anchor="middle" fill="#111">4</text>
<path d="M148.40 443.00v3.4" stroke="#2e2e2e" stroke-width="1.0"/>
<text transform="translate(148.40 454.90) scale(0.87,1)" font-size="7.8" text-anchor="middle" fill="#111">5</text>
<path d="M172.20 443.00v3.4" stroke="#2e2e2e" stroke-width="1.0"/>
<text transform="translate(172.20 454.90) scale(0.87,1)" font-size="7.8" text-anchor="middle" fill="#111">6</text>
<path d="M196.00 443.00v3.4" stroke="#2e2e2e" stroke-width="1.0"/>
<text transform="translate(196.00 454.90) scale(0.87,1)" font-size="7.8" text-anchor="middle" fill="#111">7</text>
<path d="M219.80 443.00v3.4" stroke="#2e2e2e" stroke-width="1.0"/>
<text transform="translate(219.80 454.90) scale(0.87,1)" font-size="7.8" text-anchor="middle" fill="#111">8</text>
<path d="M29.40 442.50h-3.3" stroke="#2e2e2e" stroke-width="1.0"/>
<text transform="translate(24.00 445.10) scale(0.87,1)" font-size="7.8" text-anchor="end" fill="#111">0</text>
<path d="M29.40 404.20h-3.3" stroke="#2e2e2e" stroke-width="1.0"/>
<text transform="translate(24.00 406.80) scale(0.87,1)" font-size="7.8" text-anchor="end" fill="#111">5</text>
<path d="M29.40 365.90h-3.3" stroke="#2e2e2e" stroke-width="1.0"/>
<text transform="translate(24.00 368.50) scale(0.87,1)" font-size="7.8" text-anchor="end" fill="#111">10</text>
<path d="M29.40 327.60h-3.3" stroke="#2e2e2e" stroke-width="1.0"/>
<text transform="translate(24.00 330.20) scale(0.87,1)" font-size="7.8" text-anchor="end" fill="#111">15</text>
<path d="M29.40 289.30h-3.3" stroke="#2e2e2e" stroke-width="1.0"/>
<text transform="translate(24.00 291.90) scale(0.87,1)" font-size="7.8" text-anchor="end" fill="#111">20</text>
<path d="M29.40 423.35h-1.9" stroke="#3c3c3c" stroke-width="0.8"/>
<path d="M29.40 385.05h-1.9" stroke="#3c3c3c" stroke-width="0.8"/>
<path d="M29.40 346.75h-1.9" stroke="#3c3c3c" stroke-width="0.8"/>
<path d="M29.40 308.45h-1.9" stroke="#3c3c3c" stroke-width="0.8"/>
<path d="M29.40 270.15h-1.9" stroke="#3c3c3c" stroke-width="0.8"/>
<text transform="translate(13.9 356.6) scale(0.92,1) rotate(-90)" font-size="8.82" text-anchor="middle" fill="#111">Peak velocity (cm/s)</text>
<clipPath id="clip-e"><rect x="-30" y="-12" width="60" height="12.55"/></clipPath>
<text transform="translate(130.5 468.6) scale(0.9,1)" clip-path="url(#clip-e)" font-size="9.5" text-anchor="middle" fill="#111">Soil layer</text>
<text x="124.5" y="483.8" font-size="14" font-weight="bold" text-anchor="middle" fill="#111"><tspan font-size="14.4" font-weight="normal" dy="0.1">(</tspan><tspan dy="-0.1">e</tspan><tspan font-size="14.4" font-weight="normal" dy="0.1">)</tspan></text>
<rect x="150.1" y="253.2" width="57.30" height="81.60" fill="#fff" stroke="#9a9a9a" stroke-width="0.5"/>
<path d="M151.6 259.00H168.2" stroke="#3a3a3a" stroke-width="1.3" stroke-opacity="0.38"/>
<rect x="157.95" y="257.05" width="3.89" height="3.89" fill="#3a3a3a"/>
<text transform="translate(170.5 261.81) scale(0.88,1)" font-size="8.63" fill="#111">Condition 1</text>
<path d="M151.6 269.03H168.2" stroke="#f03030" stroke-width="1.3" stroke-opacity="0.38"/>
<circle cx="159.90" cy="269.03" r="2.05" fill="#f03030"/>
<text transform="translate(170.5 271.84) scale(0.88,1)" font-size="8.63" fill="#111">Condition 2</text>
<path d="M151.6 279.06H168.2" stroke="#1060e0" stroke-width="1.3" stroke-opacity="0.38"/>
<polygon points="159.90,276.23 157.07,280.95 162.73,280.95" fill="#1060e0"/>
<text transform="translate(170.5 281.87) scale(0.88,1)" font-size="8.63" fill="#111">Condition 3</text>
<path d="M151.6 289.09H168.2" stroke="#2ea868" stroke-width="1.3" stroke-opacity="0.38"/>
<polygon points="159.90,291.92 157.07,287.20 162.73,287.20" fill="#2ea868"/>
<text transform="translate(170.5 291.90) scale(0.88,1)" font-size="8.63" fill="#111">Condition 4</text>
<path d="M151.6 299.12H168.2" stroke="#a86ee0" stroke-width="1.3" stroke-opacity="0.38"/>
<polygon points="159.90,296.06 162.85,299.12 159.90,302.18 156.95,299.12" fill="#a86ee0"/>
<text transform="translate(170.5 301.93) scale(0.88,1)" font-size="8.63" fill="#111">Condition 5</text>
<path d="M151.6 309.15H168.2" stroke="#d09010" stroke-width="1.3" stroke-opacity="0.38"/>
<polygon points="156.84,309.15 161.67,306.44 161.67,311.86" fill="#d09010"/>
<text transform="translate(170.5 311.96) scale(0.88,1)" font-size="8.63" fill="#111">Condition 6</text>
<path d="M151.6 319.18H168.2" stroke="#10c8d0" stroke-width="1.3" stroke-opacity="0.38"/>
<polygon points="162.96,319.18 158.13,316.47 158.13,321.89" fill="#10c8d0"/>
<text transform="translate(170.5 321.99) scale(0.88,1)" font-size="8.63" fill="#111">Condition 7</text>
<path d="M151.6 329.21H168.2" stroke="#703c3c" stroke-width="1.3" stroke-opacity="0.38"/>
<circle cx="159.90" cy="329.21" r="2.05" fill="#703c3c"/>
<text transform="translate(170.5 332.02) scale(0.88,1)" font-size="8.63" fill="#111">Condition 8</text>
</g>
<g id="panel-f">
<polyline points="365.90,334.88 389.70,339.35 413.50,347.48 437.30,358.45 461.10,372.28 484.90,389.76 508.70,408.05 532.50,423.49" fill="none" stroke="#3a3a3a" stroke-width="0.7" stroke-opacity="0.9"/>
<rect x="363.91" y="332.88" width="3.99" height="3.99" fill="#3a3a3a"/>
<rect x="387.71" y="337.35" width="3.99" height="3.99" fill="#3a3a3a"/>
<rect x="411.50" y="345.48" width="3.99" height="3.99" fill="#3a3a3a"/>
<rect x="435.31" y="356.46" width="3.99" height="3.99" fill="#3a3a3a"/>
<rect x="459.11" y="370.28" width="3.99" height="3.99" fill="#3a3a3a"/>
<rect x="482.91" y="387.76" width="3.99" height="3.99" fill="#3a3a3a"/>
<rect x="506.71" y="406.05" width="3.99" height="3.99" fill="#3a3a3a"/>
<rect x="530.50" y="421.50" width="3.99" height="3.99" fill="#3a3a3a"/>
<polyline points="365.90,351.54 389.70,355.61 413.50,362.52 437.30,372.68 461.10,385.69 484.90,399.10 508.70,414.15 532.50,426.75" fill="none" stroke="#f03030" stroke-width="0.7" stroke-opacity="0.9"/>
<circle cx="365.90" cy="351.54" r="2.10" fill="#f03030"/>
<circle cx="389.70" cy="355.61" r="2.10" fill="#f03030"/>
<circle cx="413.50" cy="362.52" r="2.10" fill="#f03030"/>
<circle cx="437.30" cy="372.68" r="2.10" fill="#f03030"/>
<circle cx="461.10" cy="385.69" r="2.10" fill="#f03030"/>
<circle cx="484.90" cy="399.10" r="2.10" fill="#f03030"/>
<circle cx="508.70" cy="414.15" r="2.10" fill="#f03030"/>
<circle cx="532.50" cy="426.75" r="2.10" fill="#f03030"/>
<polyline points="365.90,350.32 389.70,354.80 413.50,362.11 437.30,372.28 461.10,385.28 484.90,398.70 508.70,413.74 532.50,426.34" fill="none" stroke="#1060e0" stroke-width="0.7" stroke-opacity="0.9"/>
<polygon points="365.90,347.60 363.18,352.14 368.62,352.14" fill="#1060e0"/>
<polygon points="389.70,352.07 386.98,356.61 392.42,356.61" fill="#1060e0"/>
<polygon points="413.50,359.39 410.78,363.93 416.22,363.93" fill="#1060e0"/>
<polygon points="437.30,369.55 434.58,374.09 440.02,374.09" fill="#1060e0"/>
<polygon points="461.10,382.56 458.38,387.10 463.82,387.10" fill="#1060e0"/>
<polygon points="484.90,395.98 482.18,400.51 487.62,400.51" fill="#1060e0"/>
<polygon points="508.70,411.02 505.98,415.55 511.42,415.55" fill="#1060e0"/>
<polygon points="532.50,423.62 529.78,428.15 535.22,428.15" fill="#1060e0"/>
<polyline points="365.90,346.67 389.70,351.14 413.50,359.27 437.30,371.46 461.10,384.88 484.90,397.88 508.70,413.33 532.50,425.93" fill="none" stroke="#2ea868" stroke-width="0.7" stroke-opacity="0.9"/>
<polygon points="365.90,349.39 363.18,344.85 368.62,344.85" fill="#2ea868"/>
<polygon points="389.70,353.86 386.98,349.32 392.42,349.32" fill="#2ea868"/>
<polygon points="413.50,361.99 410.78,357.45 416.22,357.45" fill="#2ea868"/>
<polygon points="437.30,374.18 434.58,369.65 440.02,369.65" fill="#2ea868"/>
<polygon points="461.10,387.60 458.38,383.06 463.82,383.06" fill="#2ea868"/>
<polygon points="484.90,400.61 482.18,396.07 487.62,396.07" fill="#2ea868"/>
<polygon points="508.70,416.05 505.98,411.52 511.42,411.52" fill="#2ea868"/>
<polygon points="532.50,428.66 529.78,424.12 535.22,424.12" fill="#2ea868"/>
<polyline points="365.90,334.47 389.70,348.29 413.50,362.93 437.30,373.50 461.10,386.50 484.90,399.92 508.70,414.55 532.50,427.15" fill="none" stroke="#a86ee0" stroke-width="0.7" stroke-opacity="0.9"/>
<polygon points="365.90,331.52 368.74,334.47 365.90,337.42 363.07,334.47" fill="#a86ee0"/>
<polygon points="389.70,345.34 392.54,348.29 389.70,351.24 386.87,348.29" fill="#a86ee0"/>
<polygon points="413.50,359.98 416.33,362.93 413.50,365.87 410.67,362.93" fill="#a86ee0"/>
<polygon points="437.30,370.55 440.13,373.50 437.30,376.44 434.47,373.50" fill="#a86ee0"/>
<polygon points="461.10,383.55 463.94,386.50 461.10,389.45 458.27,386.50" fill="#a86ee0"/>
<polygon points="484.90,396.97 487.74,399.92 484.90,402.87 482.07,399.92" fill="#a86ee0"/>
<polygon points="508.70,411.60 511.54,414.55 508.70,417.50 505.87,414.55" fill="#a86ee0"/>
<polygon points="532.50,424.20 535.34,427.15 532.50,430.10 529.66,427.15" fill="#a86ee0"/>
<polyline points="365.90,330.81 389.70,342.19 413.50,356.42 437.30,369.84 461.10,382.84 484.90,394.23 508.70,410.08 532.50,423.90" fill="none" stroke="#d09010" stroke-width="0.7" stroke-opacity="0.9"/>
<polygon points="362.95,330.81 367.60,328.20 367.60,333.42" fill="#d09010"/>
<polygon points="386.75,342.19 391.40,339.59 391.40,344.80" fill="#d09010"/>
<polygon points="410.55,356.42 415.20,353.81 415.20,359.03" fill="#d09010"/>
<polygon points="434.35,369.84 439.00,367.23 439.00,372.44" fill="#d09010"/>
<polygon points="458.15,382.84 462.80,380.24 462.80,385.45" fill="#d09010"/>
<polygon points="481.95,394.23 486.60,391.62 486.60,396.83" fill="#d09010"/>
<polygon points="505.75,410.08 510.40,407.47 510.40,412.69" fill="#d09010"/>
<polygon points="529.55,423.90 534.20,421.29 534.20,426.51" fill="#d09010"/>
<polyline points="365.90,311.71 389.70,320.24 413.50,335.28 437.30,358.86 461.10,378.37 484.90,390.97 508.70,407.23 532.50,422.28" fill="none" stroke="#10c8d0" stroke-width="0.7" stroke-opacity="0.9"/>
<polygon points="368.85,311.71 364.20,309.10 364.20,314.32" fill="#10c8d0"/>
<polygon points="392.65,320.24 388.00,317.64 388.00,322.85" fill="#10c8d0"/>
<polygon points="416.45,335.28 411.80,332.68 411.80,337.89" fill="#10c8d0"/>
<polygon points="440.25,358.86 435.60,356.25 435.60,361.47" fill="#10c8d0"/>
<polygon points="464.05,378.37 459.40,375.76 459.40,380.98" fill="#10c8d0"/>
<polygon points="487.85,390.97 483.20,388.37 483.20,393.58" fill="#10c8d0"/>
<polygon points="511.65,407.23 507.00,404.63 507.00,409.84" fill="#10c8d0"/>
<polygon points="535.45,422.28 530.80,419.67 530.80,424.88" fill="#10c8d0"/>
<polyline points="365.90,283.66 389.70,295.85 413.50,315.37 437.30,335.69 461.10,355.20 484.90,372.28 508.70,395.04 532.50,415.77" fill="none" stroke="#703c3c" stroke-width="0.7" stroke-opacity="0.9"/>
<circle cx="365.90" cy="283.66" r="2.10" fill="#703c3c"/>
<circle cx="389.70" cy="295.85" r="2.10" fill="#703c3c"/>
<circle cx="413.50" cy="315.37" r="2.10" fill="#703c3c"/>
<circle cx="437.30" cy="335.69" r="2.10" fill="#703c3c"/>
<circle cx="461.10" cy="355.20" r="2.10" fill="#703c3c"/>
<circle cx="484.90" cy="372.28" r="2.10" fill="#703c3c"/>
<circle cx="508.70" cy="395.04" r="2.10" fill="#703c3c"/>
<circle cx="532.50" cy="415.77" r="2.10" fill="#703c3c"/>
<path d="M342.10 269.70V443.75" fill="none" stroke="#505050" stroke-width="1.3"/>
<path d="M341.45 443.00H544.40" fill="none" stroke="#5e5e5e" stroke-width="1.5"/>
<path d="M342.10 443.00v3.4" stroke="#2e2e2e" stroke-width="1.0"/>
<text transform="translate(342.10 454.90) scale(0.87,1)" font-size="7.8" text-anchor="middle" fill="#111">0</text>
<path d="M365.90 443.00v3.4" stroke="#2e2e2e" stroke-width="1.0"/>
<text transform="translate(365.90 454.90) scale(0.87,1)" font-size="7.8" text-anchor="middle" fill="#111">1</text>
<path d="M389.70 443.00v3.4" stroke="#2e2e2e" stroke-width="1.0"/>
<text transform="translate(389.70 454.90) scale(0.87,1)" font-size="7.8" text-anchor="middle" fill="#111">2</text>
<path d="M413.50 443.00v3.4" stroke="#2e2e2e" stroke-width="1.0"/>
<text transform="translate(413.50 454.90) scale(0.87,1)" font-size="7.8" text-anchor="middle" fill="#111">3</text>
<path d="M437.30 443.00v3.4" stroke="#2e2e2e" stroke-width="1.0"/>
<text transform="translate(437.30 454.90) scale(0.87,1)" font-size="7.8" text-anchor="middle" fill="#111">4</text>
<path d="M461.10 443.00v3.4" stroke="#2e2e2e" stroke-width="1.0"/>
<text transform="translate(461.10 454.90) scale(0.87,1)" font-size="7.8" text-anchor="middle" fill="#111">5</text>
<path d="M484.90 443.00v3.4" stroke="#2e2e2e" stroke-width="1.0"/>
<text transform="translate(484.90 454.90) scale(0.87,1)" font-size="7.8" text-anchor="middle" fill="#111">6</text>
<path d="M508.70 443.00v3.4" stroke="#2e2e2e" stroke-width="1.0"/>
<text transform="translate(508.70 454.90) scale(0.87,1)" font-size="7.8" text-anchor="middle" fill="#111">7</text>
<path d="M532.50 443.00v3.4" stroke="#2e2e2e" stroke-width="1.0"/>
<text transform="translate(532.50 454.90) scale(0.87,1)" font-size="7.8" text-anchor="middle" fill="#111">8</text>
<path d="M342.10 442.50h-3.3" stroke="#2e2e2e" stroke-width="1.0"/>
<text transform="translate(336.70 445.10) scale(0.87,1)" font-size="7.8" text-anchor="end" fill="#111">2.0</text>
<path d="M342.10 422.18h-3.3" stroke="#2e2e2e" stroke-width="1.0"/>
<text transform="translate(336.70 424.78) scale(0.87,1)" font-size="7.8" text-anchor="end" fill="#111">2.5</text>
<path d="M342.10 401.85h-3.3" stroke="#2e2e2e" stroke-width="1.0"/>
<text transform="translate(336.70 404.45) scale(0.87,1)" font-size="7.8" text-anchor="end" fill="#111">3.0</text>
<path d="M342.10 381.52h-3.3" stroke="#2e2e2e" stroke-width="1.0"/>
<text transform="translate(336.70 384.12) scale(0.87,1)" font-size="7.8" text-anchor="end" fill="#111">3.5</text>
<path d="M342.10 361.20h-3.3" stroke="#2e2e2e" stroke-width="1.0"/>
<text transform="translate(336.70 363.80) scale(0.87,1)" font-size="7.8" text-anchor="end" fill="#111">4.0</text>
<path d="M342.10 340.88h-3.3" stroke="#2e2e2e" stroke-width="1.0"/>
<text transform="translate(336.70 343.48) scale(0.87,1)" font-size="7.8" text-anchor="end" fill="#111">4.5</text>
<path d="M342.10 320.55h-3.3" stroke="#2e2e2e" stroke-width="1.0"/>
<text transform="translate(336.70 323.15) scale(0.87,1)" font-size="7.8" text-anchor="end" fill="#111">5.0</text>
<path d="M342.10 300.23h-3.3" stroke="#2e2e2e" stroke-width="1.0"/>
<text transform="translate(336.70 302.83) scale(0.87,1)" font-size="7.8" text-anchor="end" fill="#111">5.5</text>
<path d="M342.10 279.90h-3.3" stroke="#2e2e2e" stroke-width="1.0"/>
<text transform="translate(336.70 282.50) scale(0.87,1)" font-size="7.8" text-anchor="end" fill="#111">6.0</text>
<path d="M342.10 432.34h-1.9" stroke="#3c3c3c" stroke-width="0.8"/>
<path d="M342.10 412.01h-1.9" stroke="#3c3c3c" stroke-width="0.8"/>
<path d="M342.10 391.69h-1.9" stroke="#3c3c3c" stroke-width="0.8"/>
<path d="M342.10 371.36h-1.9" stroke="#3c3c3c" stroke-width="0.8"/>
<path d="M342.10 351.04h-1.9" stroke="#3c3c3c" stroke-width="0.8"/>
<path d="M342.10 330.71h-1.9" stroke="#3c3c3c" stroke-width="0.8"/>
<path d="M342.10 310.39h-1.9" stroke="#3c3c3c" stroke-width="0.8"/>
<path d="M342.10 290.06h-1.9" stroke="#3c3c3c" stroke-width="0.8"/>
<path d="M342.10 269.74h-1.9" stroke="#3c3c3c" stroke-width="0.8"/>
<text transform="translate(324.6 356.3) scale(0.92,1) rotate(-90)" font-size="9.0" text-anchor="middle" fill="#111">Peak acceleration (m/s<tspan font-size="6.2" dy="-3.1">2</tspan><tspan dy="3.1">)</tspan></text>
<clipPath id="clip-f"><rect x="-30" y="-12" width="60" height="12.55"/></clipPath>
<text transform="translate(443.2 468.6) scale(0.9,1)" clip-path="url(#clip-f)" font-size="9.5" text-anchor="middle" fill="#111">Soil layer</text>
<text x="437" y="483.8" font-size="14" font-weight="bold" text-anchor="middle" fill="#111"><tspan font-size="14.4" font-weight="normal" dy="0.1">(</tspan><tspan dy="-0.1">f</tspan><tspan font-size="14.4" font-weight="normal" dy="0.1">)</tspan></text>
<rect x="456.9" y="248.6" width="63.80" height="90.00" fill="#fff" stroke="#9a9a9a" stroke-width="0.5"/>
<path d="M458.5 255.50H476.8" stroke="#3a3a3a" stroke-width="0.6" stroke-opacity="0.8"/>
<rect x="465.56" y="253.41" width="4.18" height="4.18" fill="#3a3a3a"/>
<text transform="translate(479.4 258.61) scale(0.88,1)" font-size="9.54" fill="#111">Condition 1</text>
<path d="M458.5 266.54H476.8" stroke="#f03030" stroke-width="0.6" stroke-opacity="0.8"/>
<circle cx="467.65" cy="266.54" r="2.20" fill="#f03030"/>
<text transform="translate(479.4 269.65) scale(0.88,1)" font-size="9.54" fill="#111">Condition 2</text>
<path d="M458.5 277.58H476.8" stroke="#1060e0" stroke-width="0.6" stroke-opacity="0.8"/>
<polygon points="467.65,274.28 464.35,279.78 470.95,279.78" fill="#1060e0"/>
<text transform="translate(479.4 280.69) scale(0.88,1)" font-size="9.54" fill="#111">Condition 3</text>
<path d="M458.5 288.62H476.8" stroke="#2ea868" stroke-width="0.6" stroke-opacity="0.8"/>
<polygon points="467.65,291.92 464.35,286.42 470.95,286.42" fill="#2ea868"/>
<text transform="translate(479.4 291.73) scale(0.88,1)" font-size="9.54" fill="#111">Condition 4</text>
<path d="M458.5 299.66H476.8" stroke="#a86ee0" stroke-width="0.6" stroke-opacity="0.8"/>
<polygon points="467.65,296.08 471.09,299.66 467.65,303.23 464.21,299.66" fill="#a86ee0"/>
<text transform="translate(479.4 302.77) scale(0.88,1)" font-size="9.54" fill="#111">Condition 5</text>
<path d="M458.5 310.70H476.8" stroke="#d09010" stroke-width="0.6" stroke-opacity="0.8"/>
<polygon points="464.07,310.70 469.71,307.54 469.71,313.86" fill="#d09010"/>
<text transform="translate(479.4 313.81) scale(0.88,1)" font-size="9.54" fill="#111">Condition 6</text>
<path d="M458.5 321.74H476.8" stroke="#10c8d0" stroke-width="0.6" stroke-opacity="0.8"/>
<polygon points="471.22,321.74 465.59,318.58 465.59,324.90" fill="#10c8d0"/>
<text transform="translate(479.4 324.85) scale(0.88,1)" font-size="9.54" fill="#111">Condition 7</text>
<path d="M458.5 332.78H476.8" stroke="#703c3c" stroke-width="0.6" stroke-opacity="0.8"/>
<circle cx="467.65" cy="332.78" r="2.20" fill="#703c3c"/>
<text transform="translate(479.4 335.89) scale(0.88,1)" font-size="9.54" fill="#111">Condition 8</text>
</g>
</g>
</svg>
</body>
</html>
